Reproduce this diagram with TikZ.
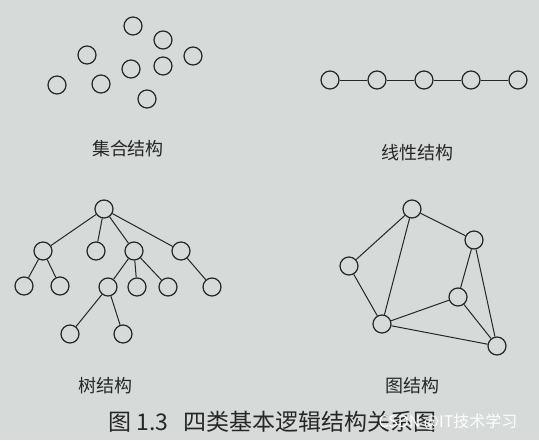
\documentclass[tikz,border=0pt]{standalone}
\usepackage{fontspec}
\setmainfont{Noto Sans CJK SC}
\usetikzlibrary{positioning}

\definecolor{paper}{RGB}{214,218,216}
\definecolor{ink}{RGB}{38,38,38}

\begin{document}
\begin{tikzpicture}[
    x=1pt, y=-1pt, % pixel-like units, y downwards
    dot/.style={circle, draw=ink, line width=1.2pt, minimum size=18pt, inner sep=0pt},
    every edge/.style={draw=ink, line width=1pt},
    lbl/.style={font=\fontsize{18}{18}\selectfont, text=ink},
    node distance=47pt % spacing of the linear chain
]

% Paper
\fill[paper] (0,0) rectangle (539,440);
\useasboundingbox (0,0) rectangle (539,440);

% Set structure
\node[dot] (s1) at (133,26) {};
\node[dot] (s2) at (163,40) {};
\node[dot] (s3) at (87,55) {};
\node[dot] (s4) at (193,56) {};
\node[dot] (s5) at (131,69) {};
\node[dot] (s6) at (163,66) {};
\node[dot] (s7) at (57,85) {};
\node[dot] (s8) at (101,84) {};
\node[dot] (s9) at (147,99) {};
\node[lbl] (setlbl) at (128,149) {集合结构};

% Linear structure
\node[dot] (l1) at (330,80) {};
\node[dot] (l2) [right of=l1] {};
\node[dot] (l3) [right of=l2] {};
\node[dot] (l4) [right of=l3] {};
\node[dot] (l5) [right of=l4] {};
\node[lbl] (linlbl) at (417,153) {线性结构};

\path (l1) edge (l2);
\path (l2) edge (l3);
\path (l3) edge (l4);
\path (l4) edge (l5);

% Tree structure
\node[dot] (t0) at (104,209) {};
\node[dot] (a) at (43,251) {};
\node[dot] (b) at (96,251) {};
\node[dot] (c) at (134,251) {};
\node[dot] (d) at (181,251) {};
\node[dot] (a1) at (24,286) {};
\node[dot] (a2) at (60,286) {};
\node[dot] (c1) at (108,287) {};
\node[dot] (c2) at (137,287) {};
\node[dot] (c3) at (168,287) {};
\node[dot] (d1) at (212,287) {};
\node[dot] (e1) at (70,334) {};
\node[dot] (e2) at (123,334) {};
\node[lbl] (treelbl) at (105,386) {树结构};

\path (t0) edge (a);
\path (t0) edge (b);
\path (t0) edge (c);
\path (t0) edge (d);
\path (a) edge (a1);
\path (a) edge (a2);
\path (c) edge (c1);
\path (c) edge (c2);
\path (c) edge (c3);
\path (d) edge (d1);
\path (c1) edge (e1);
\path (c1) edge (e2);

% Graph structure
\node[dot] (A) at (412,209) {};
\node[dot] (B) at (474,240) {};
\node[dot] (C) at (349,266) {};
\node[dot] (D) at (458,297) {};
\node[dot] (E) at (382,324) {};
\node[dot] (F) at (497,346) {};
\node[lbl] (graphlbl) at (412,386) {图结构};

\path (A) edge (C);
\path (A) edge (E);
\path (A) edge (B);
\path (C) edge (E);
\path (B) edge (D);
\path (B) edge (F);
\path (D) edge (E);
\path (D) edge (F);
\path (E) edge (F);

% Caption and watermark
\node[lbl, font=\fontsize{23}{23}\selectfont, anchor=west] (fig) at (105,422) {图 1.3};
\node[lbl, font=\fontsize{23}{23}\selectfont, anchor=west] (cap) at (180,422) {四类基本逻辑结构关系图};
\node[font=\fontsize{16}{16}\selectfont, text=white, anchor=west] (mark) at (375,422) {CSDN @IT技术学习};

\end{tikzpicture}
\end{document}
